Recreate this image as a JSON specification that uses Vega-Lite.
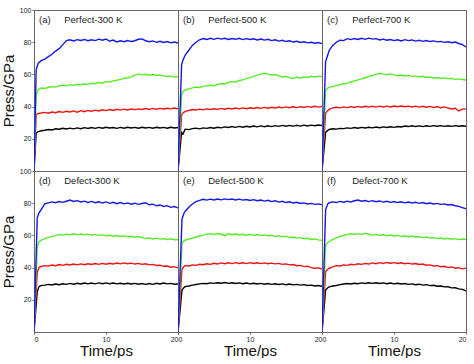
{
"$schema":"https://vega.github.io/schema/vega-lite/v6.json",
"padding":{"left":1,"top":6,"right":6,"bottom":0},
"background":"white",
"bounds":"flush",
"data":{"values":[
{"S":"Perfect","T":"300 K","tag":"(a)","name":"Perfect-300 K"},
{"S":"Perfect","T":"500 K","tag":"(b)","name":"Perfect-500 K"},
{"S":"Perfect","T":"700 K","tag":"(c)","name":"Perfect-700 K"},
{"S":"Defect","T":"300 K","tag":"(d)","name":"Defect-300 K"},
{"S":"Defect","T":"500 K","tag":"(e)","name":"Defect-500 K"},
{"S":"Defect","T":"700 K","tag":"(f)","name":"Defect-700 K"},
{"S":"Perfect","T":"300 K","t":0,"k":0,"r":0,"g":0,"b":0},
{"S":"Perfect","T":"300 K","t":0.3,"k":23.5,"r":35,"g":47,"b":63},
{"S":"Perfect","T":"300 K","t":0.6,"k":24.5,"r":35.8,"g":50.5,"b":67},
{"S":"Perfect","T":"300 K","t":1,"k":25,"r":36,"g":51.5,"b":68.5},
{"S":"Perfect","T":"300 K","t":1.5,"k":25.3,"r":36.4,"g":51.2,"b":69.5},
{"S":"Perfect","T":"300 K","t":2,"k":25.8,"r":35.9,"g":52,"b":71},
{"S":"Perfect","T":"300 K","t":2.5,"k":25.5,"r":36.6,"g":52.4,"b":72.5},
{"S":"Perfect","T":"300 K","t":3,"k":26.2,"r":36.2,"g":52.1,"b":74.5},
{"S":"Perfect","T":"300 K","t":3.5,"k":25.9,"r":36.9,"g":52.8,"b":76},
{"S":"Perfect","T":"300 K","t":4,"k":26.5,"r":36.4,"g":53.3,"b":78.5},
{"S":"Perfect","T":"300 K","t":4.5,"k":26.1,"r":37.1,"g":52.9,"b":81},
{"S":"Perfect","T":"300 K","t":5,"k":26.6,"r":36.7,"g":53.6,"b":81.5},
{"S":"Perfect","T":"300 K","t":5.5,"k":26.2,"r":37.3,"g":53.2,"b":80.8},
{"S":"Perfect","T":"300 K","t":6,"k":26.8,"r":36.5,"g":53.9,"b":81.6},
{"S":"Perfect","T":"300 K","t":6.5,"k":26.3,"r":37.5,"g":53.5,"b":81.1},
{"S":"Perfect","T":"300 K","t":7,"k":26.9,"r":36.8,"g":54.2,"b":81.7},
{"S":"Perfect","T":"300 K","t":7.5,"k":26.4,"r":37.6,"g":53.8,"b":80.9},
{"S":"Perfect","T":"300 K","t":8,"k":27,"r":37.1,"g":54.5,"b":81.5},
{"S":"Perfect","T":"300 K","t":8.5,"k":26.5,"r":37.8,"g":54.2,"b":81},
{"S":"Perfect","T":"300 K","t":9,"k":27.1,"r":37.3,"g":55,"b":81.9},
{"S":"Perfect","T":"300 K","t":9.5,"k":26.6,"r":38,"g":54.7,"b":81.2},
{"S":"Perfect","T":"300 K","t":10,"k":27.2,"r":37.5,"g":55.5,"b":82},
{"S":"Perfect","T":"300 K","t":10.5,"k":26.7,"r":38.2,"g":55.3,"b":80.6},
{"S":"Perfect","T":"300 K","t":11,"k":27,"r":37.6,"g":56,"b":81.3},
{"S":"Perfect","T":"300 K","t":11.5,"k":26.5,"r":38.3,"g":56.4,"b":80.2},
{"S":"Perfect","T":"300 K","t":12,"k":27.1,"r":37.8,"g":56.9,"b":80.9},
{"S":"Perfect","T":"300 K","t":12.5,"k":26.6,"r":38.4,"g":57.5,"b":80.3},
{"S":"Perfect","T":"300 K","t":13,"k":27.2,"r":37.9,"g":57.9,"b":81},
{"S":"Perfect","T":"300 K","t":13.5,"k":26.7,"r":38.5,"g":58.5,"b":80.4},
{"S":"Perfect","T":"300 K","t":14,"k":27.1,"r":38.1,"g":59.6,"b":80.9},
{"S":"Perfect","T":"300 K","t":14.5,"k":26.6,"r":38.6,"g":60.3,"b":81.8},
{"S":"Perfect","T":"300 K","t":15,"k":27.2,"r":38.2,"g":59.7,"b":82},
{"S":"Perfect","T":"300 K","t":15.5,"k":26.7,"r":38.8,"g":60.1,"b":80.9},
{"S":"Perfect","T":"300 K","t":16,"k":27.1,"r":38.3,"g":59.5,"b":80.3},
{"S":"Perfect","T":"300 K","t":16.5,"k":26.6,"r":38.9,"g":60,"b":80.8},
{"S":"Perfect","T":"300 K","t":17,"k":27.2,"r":38.4,"g":59.3,"b":79.9},
{"S":"Perfect","T":"300 K","t":17.5,"k":26.7,"r":38.9,"g":59.7,"b":80.6},
{"S":"Perfect","T":"300 K","t":18,"k":27.1,"r":38.5,"g":59.1,"b":79.8},
{"S":"Perfect","T":"300 K","t":18.5,"k":26.6,"r":39,"g":58.7,"b":80.4},
{"S":"Perfect","T":"300 K","t":19,"k":27.2,"r":38.6,"g":58.9,"b":79.6},
{"S":"Perfect","T":"300 K","t":19.5,"k":26.7,"r":39.1,"g":58.4,"b":80.1},
{"S":"Perfect","T":"300 K","t":20,"k":27,"r":38.7,"g":58.5,"b":79.5},
{"S":"Perfect","T":"500 K","t":0,"k":0,"r":0,"g":0,"b":0},
{"S":"Perfect","T":"500 K","t":0.5,"k":24,"r":35,"g":47,"b":66},
{"S":"Perfect","T":"500 K","t":0.7,"k":23,"r":36,"g":49.5,"b":69},
{"S":"Perfect","T":"500 K","t":1,"k":26,"r":37,"g":50.3,"b":72},
{"S":"Perfect","T":"500 K","t":1.5,"k":25.7,"r":37.6,"g":51,"b":75},
{"S":"Perfect","T":"500 K","t":2,"k":26.3,"r":38.2,"g":51.6,"b":78},
{"S":"Perfect","T":"500 K","t":2.5,"k":26.6,"r":37.9,"g":52.2,"b":80},
{"S":"Perfect","T":"500 K","t":3,"k":26.2,"r":38.4,"g":51.9,"b":81.5},
{"S":"Perfect","T":"500 K","t":3.5,"k":26.8,"r":38,"g":52.6,"b":82.3},
{"S":"Perfect","T":"500 K","t":4,"k":26.5,"r":38.6,"g":52.9,"b":81.7},
{"S":"Perfect","T":"500 K","t":4.5,"k":27,"r":38.2,"g":53.3,"b":82.4},
{"S":"Perfect","T":"500 K","t":5,"k":26.6,"r":38.7,"g":53,"b":81.8},
{"S":"Perfect","T":"500 K","t":5.5,"k":27.2,"r":38.3,"g":53.7,"b":82.5},
{"S":"Perfect","T":"500 K","t":6,"k":26.8,"r":38.9,"g":54.3,"b":81.9},
{"S":"Perfect","T":"500 K","t":6.5,"k":27.4,"r":38.4,"g":54,"b":82.4},
{"S":"Perfect","T":"500 K","t":7,"k":27,"r":39,"g":55.1,"b":81.7},
{"S":"Perfect","T":"500 K","t":7.5,"k":27.6,"r":38.5,"g":55.5,"b":82.3},
{"S":"Perfect","T":"500 K","t":8,"k":27.1,"r":39.1,"g":55.2,"b":81.8},
{"S":"Perfect","T":"500 K","t":8.5,"k":27.7,"r":38.6,"g":56.2,"b":82.4},
{"S":"Perfect","T":"500 K","t":9,"k":27.2,"r":39.2,"g":56.6,"b":81.6},
{"S":"Perfect","T":"500 K","t":9.5,"k":27.8,"r":38.7,"g":57.5,"b":82.2},
{"S":"Perfect","T":"500 K","t":10,"k":27.3,"r":39.3,"g":58,"b":81.7},
{"S":"Perfect","T":"500 K","t":10.5,"k":27.9,"r":38.8,"g":58.8,"b":82.1},
{"S":"Perfect","T":"500 K","t":11,"k":27.4,"r":39.4,"g":59.5,"b":81.4},
{"S":"Perfect","T":"500 K","t":11.5,"k":28,"r":38.9,"g":60.2,"b":82},
{"S":"Perfect","T":"500 K","t":12,"k":27.5,"r":39.5,"g":60.6,"b":81.3},
{"S":"Perfect","T":"500 K","t":12.5,"k":28.1,"r":39,"g":60.2,"b":81.8},
{"S":"Perfect","T":"500 K","t":13,"k":27.6,"r":39.6,"g":59.6,"b":81},
{"S":"Perfect","T":"500 K","t":13.5,"k":28.2,"r":39.1,"g":59.9,"b":81.5},
{"S":"Perfect","T":"500 K","t":14,"k":27.7,"r":39.7,"g":59.1,"b":80.7},
{"S":"Perfect","T":"500 K","t":14.5,"k":28.3,"r":39.2,"g":58.4,"b":81.2},
{"S":"Perfect","T":"500 K","t":15,"k":27.8,"r":39.8,"g":58.8,"b":80.4},
{"S":"Perfect","T":"500 K","t":15.5,"k":28.3,"r":39.3,"g":58,"b":80.9},
{"S":"Perfect","T":"500 K","t":16,"k":27.9,"r":39.9,"g":57.5,"b":80.1},
{"S":"Perfect","T":"500 K","t":16.5,"k":28.4,"r":39.4,"g":58.3,"b":80.6},
{"S":"Perfect","T":"500 K","t":17,"k":27.9,"r":40,"g":57.8,"b":79.8},
{"S":"Perfect","T":"500 K","t":17.5,"k":28.5,"r":39.5,"g":58.5,"b":80.3},
{"S":"Perfect","T":"500 K","t":18,"k":28,"r":40.1,"g":58.1,"b":79.6},
{"S":"Perfect","T":"500 K","t":18.5,"k":28.5,"r":39.6,"g":58.8,"b":80},
{"S":"Perfect","T":"500 K","t":19,"k":28.1,"r":40.2,"g":58.4,"b":79.4},
{"S":"Perfect","T":"500 K","t":19.5,"k":28.6,"r":39.7,"g":58.9,"b":79.8},
{"S":"Perfect","T":"500 K","t":20,"k":28.3,"r":40,"g":58.6,"b":79.1},
{"S":"Perfect","T":"700 K","t":0,"k":0,"r":0,"g":0,"b":0},
{"S":"Perfect","T":"700 K","t":0.5,"k":24,"r":36,"g":50,"b":68},
{"S":"Perfect","T":"700 K","t":0.8,"k":25.2,"r":37.5,"g":51.5,"b":72},
{"S":"Perfect","T":"700 K","t":1,"k":25.8,"r":38.3,"g":52,"b":75},
{"S":"Perfect","T":"700 K","t":1.5,"k":26.2,"r":39.2,"g":52.6,"b":78},
{"S":"Perfect","T":"700 K","t":2,"k":26,"r":39.6,"g":53.2,"b":80},
{"S":"Perfect","T":"700 K","t":2.5,"k":26.5,"r":39.2,"g":53.6,"b":81.3},
{"S":"Perfect","T":"700 K","t":3,"k":26.3,"r":39.8,"g":54.1,"b":81},
{"S":"Perfect","T":"700 K","t":3.5,"k":26.8,"r":39.4,"g":54.6,"b":82.2},
{"S":"Perfect","T":"700 K","t":4,"k":26.5,"r":40,"g":55.3,"b":81.6},
{"S":"Perfect","T":"700 K","t":4.5,"k":27,"r":39.5,"g":55.9,"b":82.3},
{"S":"Perfect","T":"700 K","t":5,"k":26.6,"r":40.1,"g":56.6,"b":81.7},
{"S":"Perfect","T":"700 K","t":5.5,"k":27.1,"r":39.6,"g":57.2,"b":82.4},
{"S":"Perfect","T":"700 K","t":6,"k":26.7,"r":40.2,"g":57.9,"b":81.8},
{"S":"Perfect","T":"700 K","t":6.5,"k":27.2,"r":39.7,"g":58.6,"b":82.5},
{"S":"Perfect","T":"700 K","t":7,"k":26.8,"r":40.2,"g":59.3,"b":81.9},
{"S":"Perfect","T":"700 K","t":7.5,"k":27.3,"r":39.7,"g":60.2,"b":82.2},
{"S":"Perfect","T":"700 K","t":8,"k":26.9,"r":40.3,"g":60.7,"b":81.4},
{"S":"Perfect","T":"700 K","t":8.5,"k":27.4,"r":39.8,"g":60.2,"b":81.9},
{"S":"Perfect","T":"700 K","t":9,"k":27,"r":40.3,"g":59.8,"b":81.2},
{"S":"Perfect","T":"700 K","t":9.5,"k":27.5,"r":39.8,"g":60.3,"b":81.7},
{"S":"Perfect","T":"700 K","t":10,"k":27.1,"r":40.4,"g":59.7,"b":81},
{"S":"Perfect","T":"700 K","t":10.5,"k":27.6,"r":39.9,"g":59.2,"b":81.5},
{"S":"Perfect","T":"700 K","t":11,"k":27.3,"r":40.4,"g":59.6,"b":80.8},
{"S":"Perfect","T":"700 K","t":11.5,"k":27.9,"r":39.9,"g":59,"b":81.6},
{"S":"Perfect","T":"700 K","t":12,"k":27.6,"r":40.3,"g":59.4,"b":81},
{"S":"Perfect","T":"700 K","t":12.5,"k":28.1,"r":39.8,"g":58.8,"b":81.4},
{"S":"Perfect","T":"700 K","t":13,"k":27.6,"r":40.3,"g":59.1,"b":80.7},
{"S":"Perfect","T":"700 K","t":13.5,"k":28,"r":39.7,"g":58.5,"b":81.2},
{"S":"Perfect","T":"700 K","t":14,"k":27.6,"r":40.2,"g":58.8,"b":80.5},
{"S":"Perfect","T":"700 K","t":14.5,"k":28.1,"r":39.6,"g":58.1,"b":81},
{"S":"Perfect","T":"700 K","t":15,"k":27.7,"r":40.1,"g":58.4,"b":80.4},
{"S":"Perfect","T":"700 K","t":15.5,"k":28.2,"r":39.5,"g":57.8,"b":80.8},
{"S":"Perfect","T":"700 K","t":16,"k":27.8,"r":40,"g":58.1,"b":80.2},
{"S":"Perfect","T":"700 K","t":16.5,"k":28.2,"r":39.3,"g":57.5,"b":80.5},
{"S":"Perfect","T":"700 K","t":17,"k":27.7,"r":39.8,"g":57.8,"b":79.9},
{"S":"Perfect","T":"700 K","t":17.5,"k":28.1,"r":39.1,"g":57.2,"b":80.3},
{"S":"Perfect","T":"700 K","t":18,"k":27.7,"r":38.5,"g":57.5,"b":79.7},
{"S":"Perfect","T":"700 K","t":18.5,"k":28.2,"r":39,"g":56.9,"b":80.1},
{"S":"Perfect","T":"700 K","t":19,"k":27.8,"r":37.3,"g":57.2,"b":79.2},
{"S":"Perfect","T":"700 K","t":19.5,"k":28.1,"r":38.4,"g":56.8,"b":78.5},
{"S":"Perfect","T":"700 K","t":20,"k":27.8,"r":38.6,"g":56.5,"b":77},
{"S":"Defect","T":"300 K","t":0,"k":0,"r":0,"g":0,"b":0},
{"S":"Defect","T":"300 K","t":0.45,"k":25,"r":37,"g":53,"b":71},
{"S":"Defect","T":"300 K","t":0.7,"k":28.2,"r":40.2,"g":56,"b":74},
{"S":"Defect","T":"300 K","t":1,"k":28.8,"r":40.7,"g":57,"b":76},
{"S":"Defect","T":"300 K","t":1.5,"k":29.1,"r":41.2,"g":58,"b":79.6},
{"S":"Defect","T":"300 K","t":2,"k":29.6,"r":40.9,"g":58.8,"b":80.2},
{"S":"Defect","T":"300 K","t":2.5,"k":29.2,"r":41.6,"g":59.4,"b":80.8},
{"S":"Defect","T":"300 K","t":3,"k":29.8,"r":41.2,"g":59.9,"b":80.3},
{"S":"Defect","T":"300 K","t":3.5,"k":29.4,"r":41.9,"g":60.5,"b":81},
{"S":"Defect","T":"300 K","t":4,"k":30,"r":41.4,"g":60.2,"b":80.5},
{"S":"Defect","T":"300 K","t":4.5,"k":29.6,"r":42.1,"g":60.8,"b":81.2},
{"S":"Defect","T":"300 K","t":5,"k":30.2,"r":41.6,"g":60.4,"b":82},
{"S":"Defect","T":"300 K","t":5.5,"k":29.7,"r":42.2,"g":61,"b":81.1},
{"S":"Defect","T":"300 K","t":6,"k":30.3,"r":41.7,"g":60.5,"b":81.6},
{"S":"Defect","T":"300 K","t":6.5,"k":29.8,"r":42.3,"g":60.9,"b":80.8},
{"S":"Defect","T":"300 K","t":7,"k":30.4,"r":41.8,"g":60.4,"b":81.3},
{"S":"Defect","T":"300 K","t":7.5,"k":29.9,"r":42.4,"g":60.8,"b":80.5},
{"S":"Defect","T":"300 K","t":8,"k":30.4,"r":41.9,"g":60.2,"b":81.1},
{"S":"Defect","T":"300 K","t":8.5,"k":29.9,"r":42.5,"g":60.6,"b":80.3},
{"S":"Defect","T":"300 K","t":9,"k":30.5,"r":42,"g":60,"b":80.9},
{"S":"Defect","T":"300 K","t":9.5,"k":30,"r":42.6,"g":60.3,"b":80.1},
{"S":"Defect","T":"300 K","t":10,"k":30.5,"r":42.1,"g":59.7,"b":80.8},
{"S":"Defect","T":"300 K","t":10.5,"k":30,"r":42.7,"g":60.1,"b":79.9},
{"S":"Defect","T":"300 K","t":11,"k":30.4,"r":42.2,"g":59.5,"b":80.6},
{"S":"Defect","T":"300 K","t":11.5,"k":29.9,"r":42.8,"g":59.9,"b":79.7},
{"S":"Defect","T":"300 K","t":12,"k":30.3,"r":42.3,"g":59.3,"b":80.4},
{"S":"Defect","T":"300 K","t":12.5,"k":29.8,"r":42.9,"g":59.7,"b":79.6},
{"S":"Defect","T":"300 K","t":13,"k":30.3,"r":42.4,"g":59.1,"b":80.2},
{"S":"Defect","T":"300 K","t":13.5,"k":29.8,"r":42.8,"g":59.5,"b":79.4},
{"S":"Defect","T":"300 K","t":14,"k":30.2,"r":42.2,"g":58.9,"b":80},
{"S":"Defect","T":"300 K","t":14.5,"k":29.7,"r":42.6,"g":59.3,"b":79.3},
{"S":"Defect","T":"300 K","t":15,"k":30.1,"r":42,"g":58.6,"b":79.8},
{"S":"Defect","T":"300 K","t":15.5,"k":29.6,"r":42.4,"g":58,"b":80.3},
{"S":"Defect","T":"300 K","t":16,"k":30.1,"r":41.7,"g":58.5,"b":79},
{"S":"Defect","T":"300 K","t":16.5,"k":29.6,"r":42,"g":57.8,"b":79.4},
{"S":"Defect","T":"300 K","t":17,"k":30.3,"r":41.3,"g":58.3,"b":78.4},
{"S":"Defect","T":"300 K","t":17.5,"k":29.8,"r":41.5,"g":57.7,"b":78.9},
{"S":"Defect","T":"300 K","t":18,"k":30.4,"r":40.8,"g":58.1,"b":78},
{"S":"Defect","T":"300 K","t":18.5,"k":29.9,"r":41,"g":57.4,"b":78.5},
{"S":"Defect","T":"300 K","t":19,"k":30.2,"r":40.2,"g":57.9,"b":77.4},
{"S":"Defect","T":"300 K","t":19.5,"k":29.7,"r":40.6,"g":57.2,"b":77.9},
{"S":"Defect","T":"300 K","t":20,"k":29.8,"r":39.8,"g":57.5,"b":77.1},
{"S":"Defect","T":"500 K","t":0,"k":0,"r":0,"g":0,"b":0},
{"S":"Defect","T":"500 K","t":0.55,"k":26,"r":39,"g":55,"b":70},
{"S":"Defect","T":"500 K","t":0.8,"k":27.5,"r":40.5,"g":56.5,"b":73.5},
{"S":"Defect","T":"500 K","t":1,"k":28.2,"r":41.2,"g":57,"b":75},
{"S":"Defect","T":"500 K","t":1.5,"k":28.6,"r":41,"g":57.8,"b":77.5},
{"S":"Defect","T":"500 K","t":2,"k":29.1,"r":41.7,"g":58.3,"b":79.5},
{"S":"Defect","T":"500 K","t":2.5,"k":29.5,"r":41.4,"g":59,"b":81},
{"S":"Defect","T":"500 K","t":3,"k":29.9,"r":42.1,"g":59.6,"b":81.8},
{"S":"Defect","T":"500 K","t":3.5,"k":30.2,"r":41.8,"g":60.3,"b":82.4},
{"S":"Defect","T":"500 K","t":4,"k":30,"r":42.4,"g":60.8,"b":81.9},
{"S":"Defect","T":"500 K","t":4.5,"k":30.5,"r":42,"g":61.1,"b":82.5},
{"S":"Defect","T":"500 K","t":5,"k":30.2,"r":42.7,"g":60.6,"b":82},
{"S":"Defect","T":"500 K","t":5.5,"k":30.6,"r":42.2,"g":61.2,"b":82.6},
{"S":"Defect","T":"500 K","t":6,"k":30.3,"r":42.9,"g":60.7,"b":82.1},
{"S":"Defect","T":"500 K","t":6.5,"k":30.7,"r":42.4,"g":59.8,"b":82.7},
{"S":"Defect","T":"500 K","t":7,"k":30.2,"r":43,"g":61,"b":82.2},
{"S":"Defect","T":"500 K","t":7.5,"k":30.6,"r":42.5,"g":60.4,"b":82.6},
{"S":"Defect","T":"500 K","t":8,"k":30.1,"r":43.1,"g":60.9,"b":82},
{"S":"Defect","T":"500 K","t":8.5,"k":30.5,"r":42.6,"g":60.3,"b":82.5},
{"S":"Defect","T":"500 K","t":9,"k":30,"r":43,"g":60.7,"b":81.9},
{"S":"Defect","T":"500 K","t":9.5,"k":30.4,"r":42.5,"g":60.1,"b":82.3},
{"S":"Defect","T":"500 K","t":10,"k":29.9,"r":43.1,"g":60.6,"b":81.7},
{"S":"Defect","T":"500 K","t":10.5,"k":30.3,"r":42.6,"g":60,"b":82.2},
{"S":"Defect","T":"500 K","t":11,"k":29.8,"r":43,"g":60.5,"b":81.5},
{"S":"Defect","T":"500 K","t":11.5,"k":30.2,"r":42.5,"g":59.9,"b":82},
{"S":"Defect","T":"500 K","t":12,"k":29.7,"r":42.9,"g":60.3,"b":81.3},
{"S":"Defect","T":"500 K","t":12.5,"k":30.1,"r":42.4,"g":59.7,"b":81.8},
{"S":"Defect","T":"500 K","t":13,"k":29.6,"r":42.8,"g":60.1,"b":81},
{"S":"Defect","T":"500 K","t":13.5,"k":30,"r":42.3,"g":59.4,"b":81.5},
{"S":"Defect","T":"500 K","t":14,"k":29.5,"r":42.6,"g":59.8,"b":80.7},
{"S":"Defect","T":"500 K","t":14.5,"k":29.9,"r":42,"g":59.1,"b":81.2},
{"S":"Defect","T":"500 K","t":15,"k":29.4,"r":42.3,"g":59.4,"b":80.4},
{"S":"Defect","T":"500 K","t":15.5,"k":29.8,"r":41.7,"g":58.7,"b":80.9},
{"S":"Defect","T":"500 K","t":16,"k":29.3,"r":41.9,"g":59,"b":80.1},
{"S":"Defect","T":"500 K","t":16.5,"k":29.6,"r":41.2,"g":58.3,"b":80.6},
{"S":"Defect","T":"500 K","t":17,"k":29.1,"r":41.4,"g":58.6,"b":79.8},
{"S":"Defect","T":"500 K","t":17.5,"k":29.4,"r":40.6,"g":57.9,"b":80.2},
{"S":"Defect","T":"500 K","t":18,"k":28.9,"r":40.9,"g":58.2,"b":79.5},
{"S":"Defect","T":"500 K","t":18.5,"k":29.1,"r":40,"g":57.5,"b":79.9},
{"S":"Defect","T":"500 K","t":19,"k":28.6,"r":39.6,"g":57.8,"b":79.3},
{"S":"Defect","T":"500 K","t":19.5,"k":28.9,"r":39.8,"g":57.2,"b":79.6},
{"S":"Defect","T":"500 K","t":20,"k":28.4,"r":39,"g":57,"b":79},
{"S":"Defect","T":"700 K","t":0,"k":0,"r":0,"g":0,"b":0},
{"S":"Defect","T":"700 K","t":0.5,"k":26,"r":37.5,"g":54,"b":76},
{"S":"Defect","T":"700 K","t":0.8,"k":27.5,"r":39,"g":55.5,"b":79.6},
{"S":"Defect","T":"700 K","t":1,"k":28,"r":39.6,"g":56.2,"b":80.3},
{"S":"Defect","T":"700 K","t":1.5,"k":28.6,"r":40.5,"g":57.5,"b":80.8},
{"S":"Defect","T":"700 K","t":2,"k":28.9,"r":41.2,"g":58.5,"b":80.4},
{"S":"Defect","T":"700 K","t":2.5,"k":29.4,"r":41,"g":59.3,"b":81.1},
{"S":"Defect","T":"700 K","t":3,"k":29.8,"r":41.7,"g":60,"b":80.6},
{"S":"Defect","T":"700 K","t":3.5,"k":30.1,"r":41.4,"g":60.6,"b":81.3},
{"S":"Defect","T":"700 K","t":4,"k":29.8,"r":42.1,"g":61,"b":80.8},
{"S":"Defect","T":"700 K","t":4.5,"k":30.3,"r":41.7,"g":60.6,"b":81.5},
{"S":"Defect","T":"700 K","t":5,"k":30,"r":42.4,"g":61.1,"b":82},
{"S":"Defect","T":"700 K","t":5.5,"k":30.5,"r":42,"g":60.5,"b":81.2},
{"S":"Defect","T":"700 K","t":6,"k":30.1,"r":42.6,"g":61.4,"b":81.7},
{"S":"Defect","T":"700 K","t":6.5,"k":30.6,"r":42.2,"g":60.7,"b":81},
{"S":"Defect","T":"700 K","t":7,"k":30.2,"r":42.9,"g":60.2,"b":81.6},
{"S":"Defect","T":"700 K","t":7.5,"k":30.6,"r":42.4,"g":60.6,"b":80.9},
{"S":"Defect","T":"700 K","t":8,"k":30.1,"r":43.1,"g":60,"b":81.4},
{"S":"Defect","T":"700 K","t":8.5,"k":30.5,"r":42.6,"g":60.4,"b":80.7},
{"S":"Defect","T":"700 K","t":9,"k":30,"r":43.2,"g":59.8,"b":81.2},
{"S":"Defect","T":"700 K","t":9.5,"k":30.4,"r":42.7,"g":60.2,"b":80.5},
{"S":"Defect","T":"700 K","t":10,"k":29.9,"r":43.1,"g":59.6,"b":81},
{"S":"Defect","T":"700 K","t":10.5,"k":30.3,"r":42.6,"g":60,"b":80.4},
{"S":"Defect","T":"700 K","t":11,"k":29.8,"r":43,"g":59.4,"b":80.9},
{"S":"Defect","T":"700 K","t":11.5,"k":30.1,"r":42.4,"g":59.8,"b":80.2},
{"S":"Defect","T":"700 K","t":12,"k":29.6,"r":42.8,"g":59.2,"b":80.7},
{"S":"Defect","T":"700 K","t":12.5,"k":29.9,"r":42.2,"g":59.6,"b":80.1},
{"S":"Defect","T":"700 K","t":13,"k":29.4,"r":42.5,"g":58.9,"b":80.6},
{"S":"Defect","T":"700 K","t":13.5,"k":29.7,"r":41.9,"g":59.3,"b":79.9},
{"S":"Defect","T":"700 K","t":14,"k":29.1,"r":42.2,"g":58.6,"b":80.4},
{"S":"Defect","T":"700 K","t":14.5,"k":29.4,"r":41.5,"g":59,"b":79.7},
{"S":"Defect","T":"700 K","t":15,"k":28.8,"r":41.7,"g":58.3,"b":80.1},
{"S":"Defect","T":"700 K","t":15.5,"k":29,"r":41,"g":58.7,"b":79.5},
{"S":"Defect","T":"700 K","t":16,"k":28.4,"r":41.2,"g":58,"b":79.9},
{"S":"Defect","T":"700 K","t":16.5,"k":28.6,"r":40.5,"g":58.4,"b":79.3},
{"S":"Defect","T":"700 K","t":17,"k":28,"r":40.8,"g":57.8,"b":79.6},
{"S":"Defect","T":"700 K","t":17.5,"k":28.1,"r":40,"g":58.2,"b":78.9},
{"S":"Defect","T":"700 K","t":18,"k":27.4,"r":40.4,"g":57.6,"b":79.2},
{"S":"Defect","T":"700 K","t":18.5,"k":27.5,"r":39.6,"g":58,"b":78.4},
{"S":"Defect","T":"700 K","t":19,"k":26.8,"r":40,"g":57.4,"b":78},
{"S":"Defect","T":"700 K","t":19.5,"k":26.5,"r":39.2,"g":57.8,"b":77.2},
{"S":"Defect","T":"700 K","t":20,"k":25.5,"r":39.7,"g":57.5,"b":76.5}
]},
"facet":{
 "row":{"field":"S","type":"nominal","sort":["Perfect","Defect"],"title":null,"header":null},
 "column":{"field":"T","type":"nominal","sort":["300 K","500 K","700 K"],"title":null,"header":null}
},
"spacing":0,
"spec":{
 "width":144,
 "height":161,
 "layer":[
  {
   "transform":[{"filter":"isValid(datum.t)"},{"fold":["k","r","g","b"],"as":["series","p"]}],
   "mark":{"type":"line","strokeWidth":1.4,"clip":true},
   "encoding":{
    "x":{"field":"t","type":"quantitative","scale":{"domain":[0,20],"nice":false},
         "axis":{"title":"Time/ps","values":[0,5,10,15,20]}},
    "y":{"field":"p","type":"quantitative","scale":{"domain":[0,100],"nice":false},
         "axis":{"title":"Press/GPa","values":[20,40,60,80,100]}},
    "color":{"field":"series","type":"nominal","scale":{"domain":["k","r","g","b"],"range":["#000000","#ee1111","#55ee22","#1515ee"]},"legend":null},
    "order":{"field":"t","type":"quantitative"}
   }
  },
  {
   "transform":[{"filter":"datum.tag"}],
   "mark":{"type":"text","align":"left","baseline":"middle","fontSize":9.5,"font":"Liberation Sans","fontWeight":"normal","color":"#222"},
   "encoding":{"x":{"datum":0.7},"y":{"datum":93.5},"text":{"field":"tag"}}
  },
  {
   "transform":[{"filter":"datum.tag"}],
   "mark":{"type":"text","align":"left","baseline":"middle","fontSize":9.5,"font":"Liberation Sans","fontWeight":"normal","color":"#222"},
   "encoding":{"x":{"datum":4.2},"y":{"datum":93.5},"text":{"field":"name"}}
  }
 ]
},
"config":{
 "view":{"stroke":"#666","strokeWidth":1},
 "axis":{"domain":false,"grid":false,"ticks":true,"tickSize":2,"tickColor":"#666","labelFont":"Liberation Sans","labelFontSize":7,"labelColor":"#222","labelPadding":1,"titleFont":"Liberation Sans","titleFontSize":15,"titleFontWeight":"normal","titleColor":"#111"},
 "axisX":{"titlePadding":1},
 "axisY":{"titlePadding":3}
}
}
